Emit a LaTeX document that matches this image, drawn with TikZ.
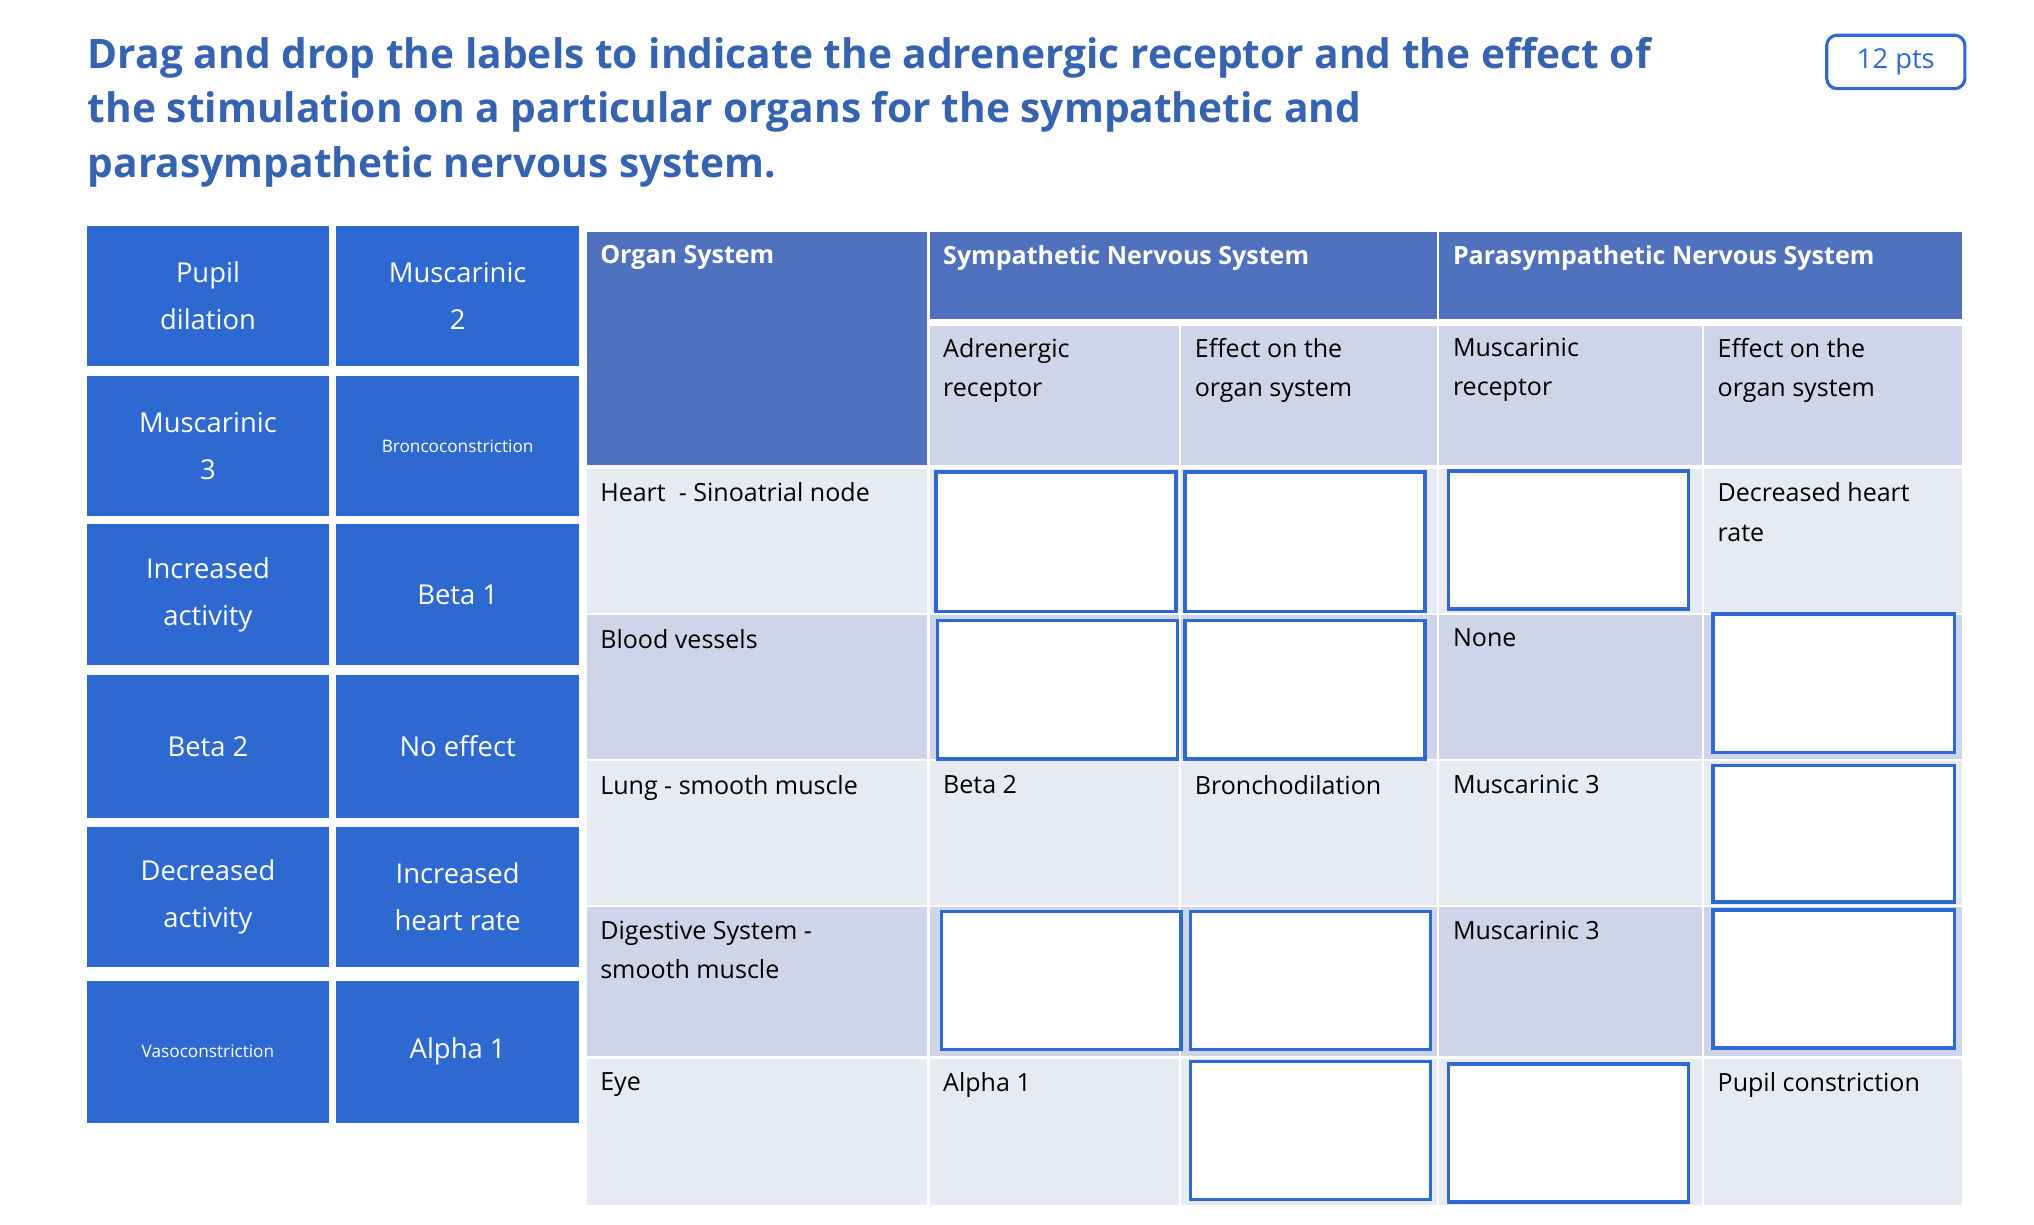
\documentclass[tikz,border=0pt]{standalone}
\usepackage{fontspec}
\setmainfont{Open Sans}
\definecolor{titleblue}{HTML}{3563B0}
\definecolor{tileblue}{HTML}{2E69D2}
\definecolor{headblue}{HTML}{4F71BE}
\definecolor{rowlight}{HTML}{E8EAF3}
\definecolor{rowdark}{HTML}{CFD5E8}
\tikzset{
  tile/.style={fill=tileblue, text=white, align=center, font=\fontsize{10.5}{18}\selectfont},
  cell/.style={anchor=north west, align=left, inner sep=0pt, font=\fontsize{9.6}{15}\selectfont},
  drop/.style={draw=tileblue, line width=1.4pt, fill=white}
}
\begin{document}
\begin{tikzpicture}[x=0.5pt,y=-0.5pt]
    \useasboundingbox (0,0) rectangle (1560,939);
    % title
    \node[anchor=north west, align=left, inner sep=0pt, text=titleblue,
          font=\fontsize{15.6}{21}\selectfont\bfseries] (title) at (67,28)
      {Drag and drop the labels to indicate the adrenergic receptor and the effect of\\
       the stimulation on a particular organs for the sympathetic and\\
       parasympathetic nervous system.};
    \draw[draw=tileblue, line width=1.2pt, rounded corners=4pt] (1401,27) rectangle (1507,68);
    \node[text=tileblue, font=\fontsize{10.5}{12}\selectfont] (pts) at (1454,47.5) {12 pts};
    % label tiles
    \foreach \y/\b [count=\i] in {173/281,288/396,402/510,518/627,634/742,752/861}
      {\fill[tileblue] (67,\y) rectangle (252,\b);
       \fill[tileblue] (258,\y) rectangle (444,\b);}
    \node[tile] (t1) at (159.5,227) {Pupil\\dilation};
    \node[tile] (t2) at (159.5,342) {Muscarinic\\3};
    \node[tile] (t3) at (159.5,456) {Increased\\activity};
    \node[tile] (t4) at (159.5,572.5) {Beta 2};
    \node[tile] (t5) at (159.5,688) {Decreased\\activity};
    \node[tile, font=\fontsize{6.6}{8}\selectfont] (t6) at (159.5,806.5) {Vasoconstriction};
    \node[tile] (s1) at (351,227) {Muscarinic\\2};
    \node[tile, font=\fontsize{6.6}{8}\selectfont] (s2) at (351,342) {Broncoconstriction};
    \node[tile] (s3) at (351,456) {Beta 1};
    \node[tile] (s4) at (351,572.5) {No effect};
    \node[tile] (s5) at (351,688) {Increased\\heart rate};
    \node[tile] (s6) at (351,806.5) {Alpha 1};
    % table backgrounds
    \fill[headblue] (450,178) rectangle (711,357);
    \fill[headblue] (713,178) rectangle (1102,245);
    \fill[headblue] (1104,178) rectangle (1505,245);
    \foreach \xa/\xb in {713/904,906/1102,1104/1305,1307/1505}
      {\fill[rowdark] (\xa,250) rectangle (\xb,357);
       \foreach \ya/\yb/\c in {360/470/rowlight,472/582/rowdark,584/694/rowlight,696/810/rowdark,812/924/rowlight}
         \fill[\c] (\xa,\ya) rectangle (\xb,\yb);}
    \foreach \ya/\yb/\c in {360/470/rowlight,472/582/rowdark,584/694/rowlight,696/810/rowdark,812/924/rowlight}
      \fill[\c] (450,\ya) rectangle (711,\yb);
    % header text
    \node[cell, text=white, font=\fontsize{9.6}{15}\selectfont\bfseries] (hOrgan) at (460,188) {Organ System};
    \node[cell, text=white, font=\fontsize{9.6}{15}\selectfont\bfseries] (hSym) at (723,188) {Sympathetic Nervous System};
    \node[cell, text=white, font=\fontsize{9.6}{15}\selectfont\bfseries] (hPara) at (1114,188) {Parasympathetic Nervous System};
    \node[cell] (hAdr) at (723,259) {Adrenergic\\receptor};
    \node[cell] (hEff1) at (916,259) {Effect on the\\organ system};
    \node[cell] (hMus) at (1114,259) {Muscarinic\\receptor};
    \node[cell] (hEff2) at (1317,259) {Effect on the\\organ system};
    % rows
    \node[cell] (heart) at (460,370) {Heart\ \ - Sinoatrial node};
    \node[cell] (blood) at (460,482) {Blood vessels};
    \node[cell] (lung) at (460,594) {Lung - smooth muscle};
    \node[cell] (dig) at (460,706) {Digestive System -\\smooth muscle};
    \node[cell] (eye) at (460,822) {Eye};
    \node[cell] (heartP) at (1317,370) {Decreased heart\\rate};
    \node[cell] (bloodM) at (1114,482) {None};
    \node[cell] (lungA) at (723,594) {Beta 2};
    \node[cell] (lungE) at (916,594) {Bronchodilation};
    \node[cell] (lungM) at (1114,594) {Muscarinic 3};
    \node[cell] (digM) at (1114,706) {Muscarinic 3};
    \node[cell] (eyeA) at (723,822) {Alpha 1};
    \node[cell] (eyeP) at (1317,822) {Pupil constriction};
    % drop boxes
    \foreach \xa/\ya/\xb/\yb in {718/362/902/469,909/362/1093/469,1111/361/1295/467,
        719/476/903/582,909/476/1093/582,1314/471/1499/577,1314/587/1499/692,
        722/699/906/805,913/699/1097/805,1314/698/1499/804,913/814/1097/920,1111/816/1295/922}
      \draw[drop] (\xa,\ya) rectangle (\xb,\yb);
\end{tikzpicture}
\end{document}
